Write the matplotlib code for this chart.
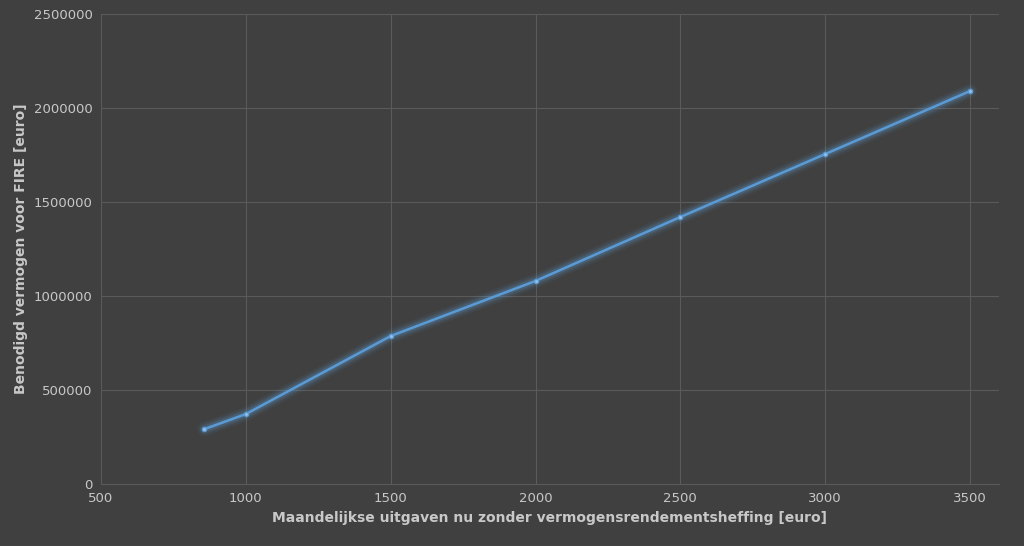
import matplotlib.pyplot as plt
from matplotlib.ticker import FuncFormatter

uitgaven = [857, 1000, 1500, 2000, 2500, 3000, 3500]
vermogen = [292000, 372000, 787000, 1080000, 1420000, 1755000, 2090000]

BG = "#404040"
TXT = "#c8c8c8"

fig = plt.figure(figsize=(10.24, 5.46), dpi=100, facecolor=BG)
ax = fig.add_axes([101 / 1024, 1 - 484 / 546, 898 / 1024, 470 / 546], facecolor=BG)

# glow
for lw, a in [(10, 0.08), (7, 0.12), (4.5, 0.2)]:
    ax.plot(uitgaven, vermogen, color="#5b9bd5", linewidth=lw, alpha=a, solid_capstyle="round")
ax.plot(uitgaven, vermogen, color="#5b9bd5", linewidth=1.8, marker="o", markersize=3,
        markerfacecolor="#9cc3e8", markeredgecolor="#5b9bd5")

ax.set_xlim(500, 3600)
ax.set_ylim(0, 2500000)
ax.set_xticks(range(500, 3501, 500))
ax.set_yticks(range(0, 2500001, 500000))
ax.yaxis.set_major_formatter(FuncFormatter(lambda v, p: f"{int(v)}"))
ax.grid(color="#5a5a5a", linewidth=0.8)
ax.set_axisbelow(True)
for s in ax.spines.values():
    s.set_visible(False)
ax.spines["bottom"].set_visible(True)
ax.spines["bottom"].set_color("#5a5a5a")
ax.tick_params(colors=TXT, length=0, labelsize=9.5, pad=6)
ax.set_xlabel("Maandelijkse uitgaven nu zonder vermogensrendementsheffing [euro]",
              color=TXT, fontsize=10, fontweight="bold")
ax.set_ylabel("Benodigd vermogen voor FIRE [euro]", color=TXT, fontsize=10, fontweight="bold")

fig.savefig("out.png", facecolor=BG)
